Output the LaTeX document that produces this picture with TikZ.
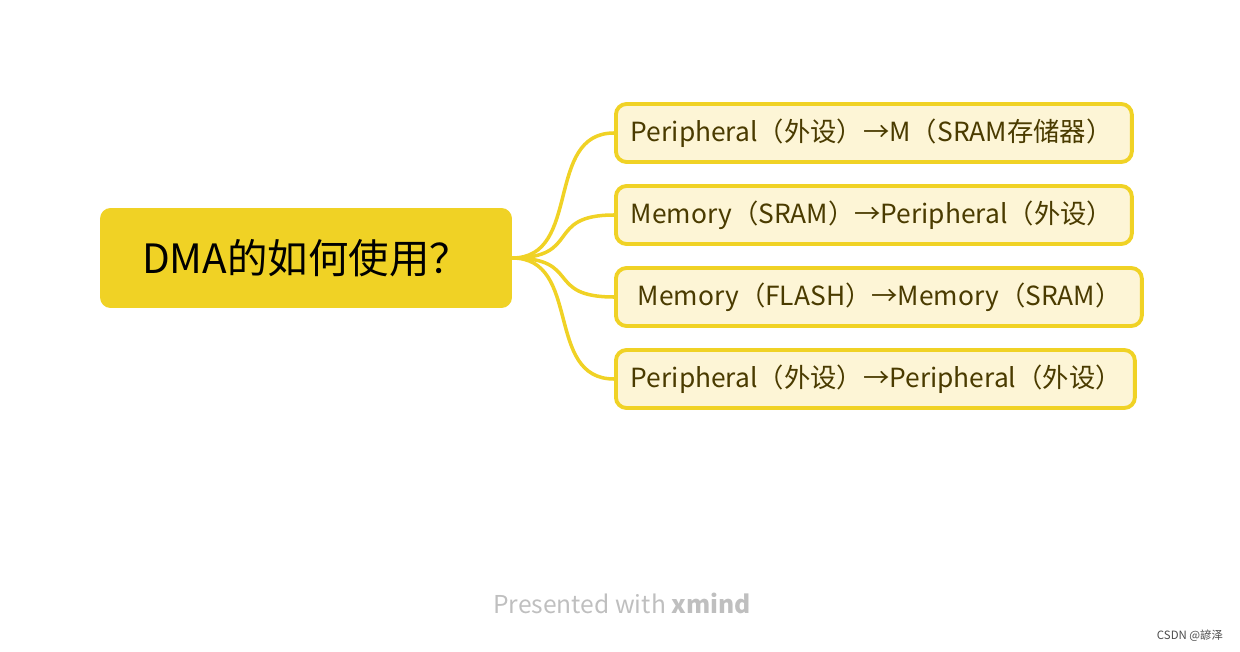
\documentclass[tikz,border=0pt]{standalone}
\usepackage{fontspec}
\setmainfont{Noto Sans CJK SC}
\usetikzlibrary{calc}
\definecolor{ylw}{HTML}{F0D225}
\definecolor{lyl}{HTML}{FDF5D6}
\definecolor{txt}{HTML}{4A3B00}
\begin{document}
\begin{tikzpicture}[x=0.02cm,y=-0.02cm,
  child/.style={draw=ylw,line width=2.2pt,fill=lyl,rounded corners=6pt,minimum height=1.16cm,text=txt,font=\fontsize{15}{17}\selectfont,anchor=west,inner xsep=0.3cm,align=left},
  conn/.style={draw=ylw,line width=2pt}]
\useasboundingbox (0,0) rectangle (1240,652);
\node[fill=ylw,rounded corners=6pt,minimum width=8.24cm,minimum height=2.0cm,font=\fontsize{23}{26}\selectfont] (root) at (306,258) {DMA的如何使用？};
\node[child,text width=9.72cm] (c1) at (614,133) {Peripheral（外设）→M（SRAM存储器）};
\node[child,text width=9.72cm] (c2) at (614,215) {Memory（SRAM）→Peripheral（外设）};
\node[child,text width=9.92cm] (c3) at (614,297) {\hspace{4pt}Memory（FLASH）→Memory（SRAM）};
\node[child,text width=9.78cm] (c4) at (614,379) {Peripheral（外设）→Peripheral（外设）};
\foreach \c in {c1,c2,c3,c4}{
  \draw[conn] (root.east) .. controls ++(1.4cm,0) and ($(\c.west)+(-1.4cm,0)$) .. (\c.west);}
\node[text=black!25,font=\fontsize{14}{16}\selectfont] (p) at (622,603) {Presented with \textbf{xmind}};
\node[text=black!70,font=\fontsize{6.5}{8}\selectfont] (cs) at (1190,636) {CSDN @諺泽};
\end{tikzpicture}
\end{document}
